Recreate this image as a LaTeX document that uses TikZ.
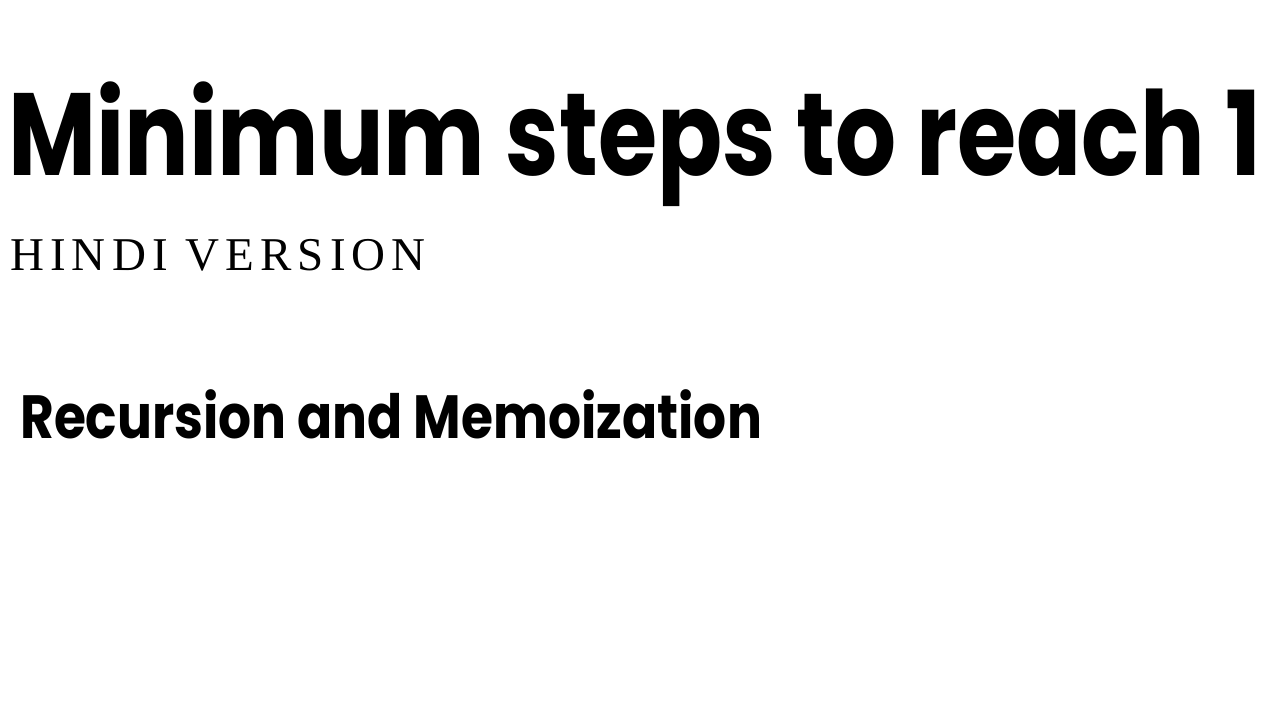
\documentclass[tikz,border=0pt]{standalone}
\usepackage{fontspec}
\setmainfont{Poppins}[BoldFont={* Bold}]
\newfontfamily\titlefont{Poppins Bold}[FakeStretch=0.82]
\newfontfamily\recfont{Poppins Bold}[FakeStretch=0.85]
\newfontfamily\subfont{Liberation Serif}[LetterSpace=13]
\begin{document}
\begin{tikzpicture}[x=1pt,y=1pt,
  txt/.style={inner sep=0pt,anchor=base west}]
\useasboundingbox[fill=white] (0,0) rectangle (1280,-720);
\node[txt] (title) at (8,-175) {\titlefont\fontsize{117}{122}\selectfont Minimum steps to reach 1};
\node[txt] (sub) at (10,-270) {\subfont\fontsize{47}{52}\selectfont HINDI VERSION};
\node[txt] (rec) at (20,-438) {\recfont\fontsize{61}{66}\selectfont Recursion and Memoization};
\end{tikzpicture}
\end{document}
